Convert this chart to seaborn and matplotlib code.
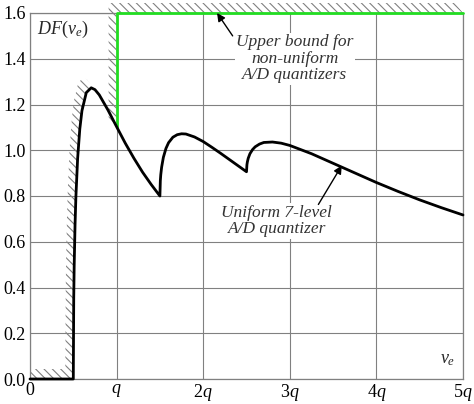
import numpy as np
import matplotlib
matplotlib.use("Agg")
import matplotlib.pyplot as plt
import matplotlib.transforms as mtransforms
from matplotlib.patches import Polygon
import seaborn as sns

# describing function of a uniform 7-level A/D quantizer
# (amplitude v_e in units of q)
ve = [0, 0.5, 0.505, 0.51, 0.52, 0.53, 0.55, 0.575, 0.6, 0.65, 0.707, 0.75,
      0.8, 0.9, 1.0, 1.1, 1.2, 1.3, 1.4, 1.5, 1.505, 1.51, 1.52, 1.54, 1.57,
      1.6, 1.65, 1.7, 1.75, 1.8, 1.9, 2.0, 2.1, 2.2, 2.3, 2.4, 2.5, 2.505,
      2.51, 2.52, 2.54, 2.57, 2.6, 2.65, 2.7, 2.8, 2.9, 3.0, 3.25, 3.5, 3.75,
      4.0, 4.25, 4.5, 4.75, 5.0]
df = [0, 0, 0.355, 0.492, 0.673, 0.797, 0.964, 1.093, 1.173, 1.252, 1.273,
      1.265, 1.242, 1.176, 1.103, 1.031, 0.965, 0.904, 0.850, 0.800, 0.867,
      0.893, 0.926, 0.969, 1.008, 1.033, 1.057, 1.068, 1.072, 1.071, 1.058,
      1.038, 1.013, 0.987, 0.960, 0.933, 0.906, 0.937, 0.949, 0.965, 0.985,
      1.003, 1.015, 1.027, 1.034, 1.036, 1.031, 1.021, 0.985, 0.943, 0.901,
      0.859, 0.820, 0.783, 0.749, 0.717]

# upper bound for non-uniform quantizers
bound_x = [1, 1, 5]
bound_y = [1.10, 1.6, 1.6]

x_ticks = [0, 1, 2, 3, 4, 5]
x_labels = ["0", "$q$", "$2q$", "$3q$", "$4q$", "$5q$"]
y_ticks = [0.0, 0.2, 0.4, 0.6, 0.8, 1.0, 1.2, 1.4, 1.6]

sns.set_style("whitegrid")
plt.rcParams["font.family"] = ["Liberation Serif", "DejaVu Serif"]
plt.rcParams["mathtext.fontset"] = "custom"
plt.rcParams["mathtext.rm"] = "Liberation Serif"
plt.rcParams["mathtext.it"] = "Liberation Serif:italic"
plt.rcParams["hatch.linewidth"] = 0.8

fig = plt.figure(figsize=(4.74, 4.04), dpi=100)
ax = fig.add_axes([30 / 474, 1 - 379 / 404, 433 / 474, 366 / 404])
ax.set_xlim(0, 5)
ax.set_ylim(0, 1.6)

grey = "#808080"
ax.grid(True, color=grey, lw=0.8)
for s in ax.spines.values():
    s.set_color(grey)
    s.set_linewidth(0.9)

ax.set_xticks(x_ticks)
ax.set_xticklabels(x_labels)
ax.set_yticks(y_ticks)
ax.set_yticklabels([f"{v:.1f}" for v in y_ticks])
ax.tick_params(length=0, labelsize=13, colors="black")
ax.tick_params(axis="x", pad=2)
ax.tick_params(axis="y", pad=3)


def hatch_band(xs, ys, dx, dy, clip):
    # band of hatching along a line, shifted dx, dy pixels
    pts = ax.transData.transform(np.column_stack([xs, ys]))
    moved = pts + np.array([dx, dy])
    poly = Polygon(np.vstack([pts, moved[::-1]]), closed=True,
                   transform=mtransforms.IdentityTransform(),
                   facecolor="none", edgecolor=grey, lw=0,
                   hatch="\\\\\\\\", clip_on=clip, zorder=1.5)
    ax.add_patch(poly)


n_peak = ve.index(0.75) + 1
hatch_band(ve[:n_peak], df[:n_peak], -8, 10, True)
hatch_band(bound_x, bound_y, -8, 10, False)

sns.lineplot(x=bound_x, y=bound_y, ax=ax, color="#22dd22", lw=2.0,
             sort=False, estimator=None, clip_on=False, zorder=3)
sns.lineplot(x=ve, y=df, ax=ax, color="black", lw=2.0,
             sort=False, estimator=None, clip_on=False, zorder=4)

ax.text(0.08, 1.53, "$DF(v_e)$", fontsize=13, va="center", ha="left")
ax.text(4.82, 0.087, "$v_e$", fontsize=13, va="center", ha="center")

box = dict(facecolor="white", edgecolor="none", pad=1)
ax.text(3.06, 1.40, "Upper bound for\nnon-uniform\nA/D quantizers",
        fontsize=12.5, style="italic", ha="center", va="center",
        linespacing=1.05, bbox=box, color="#333333", zorder=5)
ax.text(2.85, 0.69, "Uniform 7-level\nA/D quantizer",
        fontsize=12.5, style="italic", ha="center", va="center",
        linespacing=1.05, bbox=box, color="#333333", zorder=5)

arrow = dict(arrowstyle="-|>", color="black", lw=1.0, mutation_scale=12,
             shrinkA=0, shrinkB=0)
ax.annotate("", xy=(2.16, 1.6), xytext=(2.34, 1.50), arrowprops=arrow,
            annotation_clip=False, zorder=6)
ax.annotate("", xy=(3.6, 0.933), xytext=(3.33, 0.763), arrowprops=arrow,
            zorder=6)

ax.set_xlabel("")
ax.set_ylabel("")
fig.savefig("out.png", dpi=100)
